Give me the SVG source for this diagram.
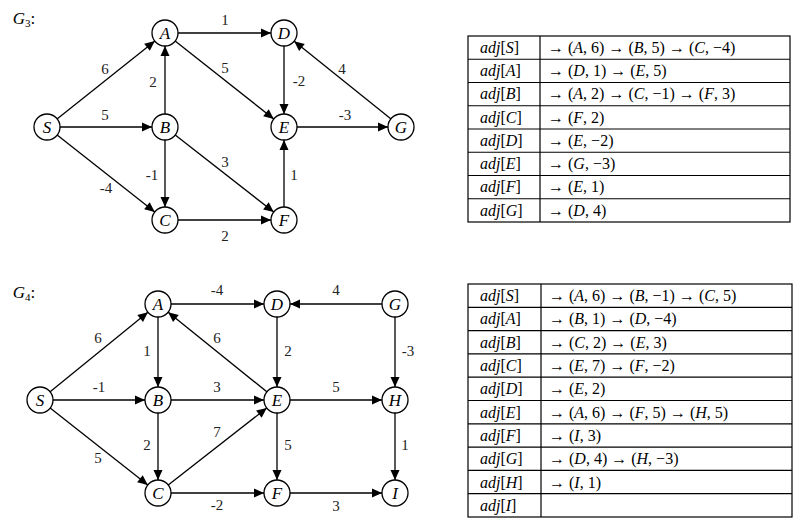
<svg xmlns="http://www.w3.org/2000/svg" width="808" height="530" viewBox="0 0 808 530">
<style>
.n circle{fill:#fff;stroke:#000;stroke-width:1.3}
.n text,.m{font-family:"Liberation Serif",serif;font-style:italic;font-size:17px;text-anchor:middle}
.e line{stroke:#000;stroke-width:1.3;marker-end:url(#ah)}
.w{font-family:"Liberation Serif",serif;font-size:15px;text-anchor:middle;fill:#222}
.t rect,.t line{fill:none;stroke:#000;stroke-width:1.2}
.t text{font-family:"Liberation Serif",serif;font-size:16px}
.i{font-style:italic}
</style>
<defs><marker id="ah" markerUnits="userSpaceOnUse" markerWidth="30" markerHeight="30" refX="0" refY="0" orient="auto" overflow="visible"><path d="M-13,0 L-23,-4.5 L-23,4.5 z" fill="#000"/></marker></defs>
<rect width="808" height="530" fill="#fff"/>
<text class="m" x="24" y="24">G<tspan font-size="11" font-style="normal" dy="3">3</tspan><tspan font-style="normal" dy="-3">:</tspan></text>
<text class="m" x="24" y="298">G<tspan font-size="11" font-style="normal" dy="3">4</tspan><tspan font-style="normal" dy="-3">:</tspan></text>
<g class="e" id="edges3">
<line x1="47" y1="127" x2="165" y2="33"/><line x1="47" y1="127" x2="165" y2="127"/><line x1="47" y1="127" x2="165" y2="220"/>
<line x1="165" y1="33" x2="284" y2="33"/><line x1="165" y1="33" x2="284" y2="127"/>
<line x1="165" y1="127" x2="165" y2="33"/><line x1="165" y1="127" x2="165" y2="220"/><line x1="165" y1="127" x2="284" y2="220"/>
<line x1="165" y1="220" x2="284" y2="220"/><line x1="284" y1="33" x2="284" y2="127"/><line x1="284" y1="127" x2="401" y2="127"/>
<line x1="284" y1="220" x2="284" y2="127"/><line x1="401" y1="127" x2="284" y2="33"/>
</g>
<g id="w3">
<text class="w" x="225" y="25">1</text><text class="w" x="105" y="74">6</text><text class="w" x="153" y="87">2</text><text class="w" x="225" y="73">5</text><text class="w" x="299" y="86">-2</text><text class="w" x="342" y="74">4</text><text class="w" x="105" y="120">5</text><text class="w" x="345" y="120">-3</text><text class="w" x="225" y="167">3</text><text class="w" x="152" y="180">-1</text><text class="w" x="106" y="193">-4</text><text class="w" x="294" y="180">1</text><text class="w" x="225" y="241">2</text>
</g>
<g class="n" id="g3S"><circle cx="47" cy="127" r="13"/><text x="47" y="133">S</text></g>
<g class="n" id="g3A"><circle cx="165" cy="33" r="13"/><text x="165" y="39">A</text></g>
<g class="n" id="g3D"><circle cx="284" cy="33" r="13"/><text x="284" y="39">D</text></g>
<g class="n" id="g3B"><circle cx="165" cy="127" r="13"/><text x="165" y="133">B</text></g>
<g class="n" id="g3E"><circle cx="284" cy="127" r="13"/><text x="284" y="133">E</text></g>
<g class="n" id="g3G"><circle cx="401" cy="127" r="13"/><text x="401" y="133">G</text></g>
<g class="n" id="g3C"><circle cx="165" cy="220" r="13"/><text x="165" y="226">C</text></g>
<g class="n" id="g3F"><circle cx="284" cy="220" r="13"/><text x="284" y="226">F</text></g>

<g class="e" id="edges4">
<line x1="40" y1="400" x2="158" y2="304"/><line x1="40" y1="400" x2="158" y2="400"/><line x1="40" y1="400" x2="158" y2="493"/>
<line x1="158" y1="304" x2="277" y2="304"/><line x1="158" y1="304" x2="158" y2="400"/><line x1="395" y1="304" x2="277" y2="304"/>
<line x1="277" y1="400" x2="158" y2="304"/><line x1="277" y1="304" x2="277" y2="400"/><line x1="395" y1="304" x2="395" y2="400"/>
<line x1="158" y1="400" x2="277" y2="400"/><line x1="277" y1="400" x2="395" y2="400"/><line x1="158" y1="400" x2="158" y2="493"/>
<line x1="158" y1="493" x2="277" y2="400"/><line x1="277" y1="400" x2="277" y2="493"/><line x1="395" y1="400" x2="395" y2="493"/>
<line x1="158" y1="493" x2="277" y2="493"/><line x1="277" y1="493" x2="395" y2="493"/>
</g>
<g id="w4">
<text class="w" x="217" y="295">-4</text><text class="w" x="336" y="295">4</text><text class="w" x="98" y="343">6</text><text class="w" x="147" y="356">1</text><text class="w" x="217" y="343">6</text><text class="w" x="288" y="356">2</text><text class="w" x="408" y="356">-3</text><text class="w" x="99" y="392">-1</text><text class="w" x="217" y="392">3</text><text class="w" x="336" y="392">5</text><text class="w" x="147" y="450">2</text><text class="w" x="217" y="437">7</text><text class="w" x="288" y="450">5</text><text class="w" x="405" y="450">1</text><text class="w" x="98" y="463">5</text><text class="w" x="217" y="510">-2</text><text class="w" x="336" y="511">3</text>
</g>
<g class="n" id="g4S"><circle cx="40" cy="400" r="13"/><text x="40" y="406">S</text></g>
<g class="n" id="g4A"><circle cx="158" cy="304" r="13"/><text x="158" y="310">A</text></g>
<g class="n" id="g4D"><circle cx="277" cy="304" r="13"/><text x="277" y="310">D</text></g>
<g class="n" id="g4G"><circle cx="395" cy="304" r="13"/><text x="395" y="310">G</text></g>
<g class="n" id="g4B"><circle cx="158" cy="400" r="13"/><text x="158" y="406">B</text></g>
<g class="n" id="g4E"><circle cx="277" cy="400" r="13"/><text x="277" y="406">E</text></g>
<g class="n" id="g4H"><circle cx="395" cy="400" r="13"/><text x="395" y="406">H</text></g>
<g class="n" id="g4C"><circle cx="158" cy="493" r="13"/><text x="158" y="499">C</text></g>
<g class="n" id="g4F"><circle cx="277" cy="493" r="13"/><text x="277" y="499">F</text></g>
<g class="n" id="g4I"><circle cx="395" cy="493" r="13"/><text x="395" y="499">I</text></g>

<g class="t" id="table3">
<rect x="468" y="36" width="322" height="186"/><line x1="540" y1="36" x2="540" y2="222"/>
<line x1="468" y1="59.25" x2="790" y2="59.25"/><line x1="468" y1="82.5" x2="790" y2="82.5"/><line x1="468" y1="105.75" x2="790" y2="105.75"/><line x1="468" y1="129" x2="790" y2="129"/><line x1="468" y1="152.25" x2="790" y2="152.25"/><line x1="468" y1="175.5" x2="790" y2="175.5"/><line x1="468" y1="198.75" x2="790" y2="198.75"/>
<text x="480" y="53"><tspan class="i">adj</tspan>[<tspan class="i">S</tspan>]</text><text x="548" y="53">→ (<tspan class="i">A</tspan>, 6) → (<tspan class="i">B</tspan>, 5) → (<tspan class="i">C</tspan>, −4)</text>
<text x="480" y="76"><tspan class="i">adj</tspan>[<tspan class="i">A</tspan>]</text><text x="548" y="76">→ (<tspan class="i">D</tspan>, 1) → (<tspan class="i">E</tspan>, 5)</text>
<text x="480" y="99"><tspan class="i">adj</tspan>[<tspan class="i">B</tspan>]</text><text x="548" y="99">→ (<tspan class="i">A</tspan>, 2) → (<tspan class="i">C</tspan>, −1) → (<tspan class="i">F</tspan>, 3)</text>
<text x="480" y="123"><tspan class="i">adj</tspan>[<tspan class="i">C</tspan>]</text><text x="548" y="123">→ (<tspan class="i">F</tspan>, 2)</text>
<text x="480" y="146"><tspan class="i">adj</tspan>[<tspan class="i">D</tspan>]</text><text x="548" y="146">→ (<tspan class="i">E</tspan>, −2)</text>
<text x="480" y="169"><tspan class="i">adj</tspan>[<tspan class="i">E</tspan>]</text><text x="548" y="169">→ (<tspan class="i">G</tspan>, −3)</text>
<text x="480" y="192"><tspan class="i">adj</tspan>[<tspan class="i">F</tspan>]</text><text x="548" y="192">→ (<tspan class="i">E</tspan>, 1)</text>
<text x="480" y="216"><tspan class="i">adj</tspan>[<tspan class="i">G</tspan>]</text><text x="548" y="216">→ (<tspan class="i">D</tspan>, 4)</text>
</g>
<g class="t" id="table4">
<rect x="468" y="284" width="324" height="233"/><line x1="541" y1="284" x2="541" y2="517"/>
<line x1="468" y1="307.3" x2="792" y2="307.3"/><line x1="468" y1="330.6" x2="792" y2="330.6"/><line x1="468" y1="353.9" x2="792" y2="353.9"/><line x1="468" y1="377.2" x2="792" y2="377.2"/><line x1="468" y1="400.5" x2="792" y2="400.5"/><line x1="468" y1="423.8" x2="792" y2="423.8"/><line x1="468" y1="447.1" x2="792" y2="447.1"/><line x1="468" y1="470.4" x2="792" y2="470.4"/><line x1="468" y1="493.7" x2="792" y2="493.7"/>
<text x="480" y="301"><tspan class="i">adj</tspan>[<tspan class="i">S</tspan>]</text><text x="549" y="301">→ (<tspan class="i">A</tspan>, 6) → (<tspan class="i">B</tspan>, −1) → (<tspan class="i">C</tspan>, 5)</text>
<text x="480" y="324"><tspan class="i">adj</tspan>[<tspan class="i">A</tspan>]</text><text x="549" y="324">→ (<tspan class="i">B</tspan>, 1) → (<tspan class="i">D</tspan>, −4)</text>
<text x="480" y="348"><tspan class="i">adj</tspan>[<tspan class="i">B</tspan>]</text><text x="549" y="348">→ (<tspan class="i">C</tspan>, 2) → (<tspan class="i">E</tspan>, 3)</text>
<text x="480" y="371"><tspan class="i">adj</tspan>[<tspan class="i">C</tspan>]</text><text x="549" y="371">→ (<tspan class="i">E</tspan>, 7) → (<tspan class="i">F</tspan>, −2)</text>
<text x="480" y="394"><tspan class="i">adj</tspan>[<tspan class="i">D</tspan>]</text><text x="549" y="394">→ (<tspan class="i">E</tspan>, 2)</text>
<text x="480" y="418"><tspan class="i">adj</tspan>[<tspan class="i">E</tspan>]</text><text x="549" y="418">→ (<tspan class="i">A</tspan>, 6) → (<tspan class="i">F</tspan>, 5) → (<tspan class="i">H</tspan>, 5)</text>
<text x="480" y="441"><tspan class="i">adj</tspan>[<tspan class="i">F</tspan>]</text><text x="549" y="441">→ (<tspan class="i">I</tspan>, 3)</text>
<text x="480" y="464"><tspan class="i">adj</tspan>[<tspan class="i">G</tspan>]</text><text x="549" y="464">→ (<tspan class="i">D</tspan>, 4) → (<tspan class="i">H</tspan>, −3)</text>
<text x="480" y="488"><tspan class="i">adj</tspan>[<tspan class="i">H</tspan>]</text><text x="549" y="488">→ (<tspan class="i">I</tspan>, 1)</text>
<text x="480" y="511"><tspan class="i">adj</tspan>[<tspan class="i">I</tspan>]</text>
</g>
</svg>
